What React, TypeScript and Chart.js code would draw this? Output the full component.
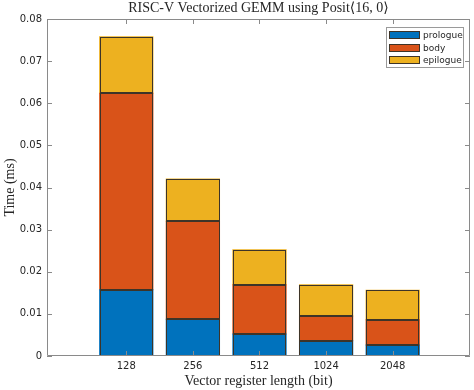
import React, { useEffect, useRef } from "react";
import { Chart, registerables } from "chart.js";

Chart.register(...registerables);

const categories = ["128", "256", "512", "1024", "2048"];
const xPositions = [1, 2, 3, 4, 5];
const prologue = [0.0157, 0.0087, 0.0052, 0.0036, 0.0026];
const body = [0.0467, 0.0233, 0.0117, 0.0059, 0.006];
const epilogue = [0.0134, 0.01, 0.0083, 0.0074, 0.007];
const seriesNames = ["prologue", "body", "epilogue"];
const seriesColors = ["#0072BD", "#D95319", "#EDB120"];
const yTicks = [0, 0.01, 0.02, 0.03, 0.04, 0.05, 0.06, 0.07, 0.08];

const TICK_FONT = "'DejaVu Sans', sans-serif";
const SERIF = "'Liberation Serif', 'DejaVu Serif', serif";
const FRAME = "#8a8a8a";
const EDGE = "#3d3428";

const framePlugin = {
  id: "matlabFrame",
  afterDatasetsDraw(chart: any) {
    const { ctx, chartArea: a, scales } = chart;
    ctx.save();
    // bar edges
    ctx.strokeStyle = EDGE;
    ctx.lineWidth = 1;
    chart.data.datasets.forEach((_: any, i: number) => {
      const meta = chart.getDatasetMeta(i);
      meta.data.forEach((bar: any) => {
        const p = bar.getProps(["x", "y", "base", "width"], true);
        const l = Math.round(p.x - p.width / 2) + 0.5;
        const r = Math.round(p.x + p.width / 2) - 0.5;
        const t = Math.round(p.y) + 0.5;
        const b = Math.round(p.base) - 0.5;
        ctx.strokeRect(l, t, r - l, b - t);
      });
    });

    ctx.strokeStyle = FRAME;
    ctx.lineWidth = 1;
    ctx.beginPath();
    ctx.rect(a.left + 0.5, a.top + 0.5, a.right - a.left - 1, a.bottom - a.top - 1);
    ctx.stroke();
    const tl = 5;
    ctx.beginPath();
    xPositions.forEach((v) => {
      const px = Math.round(scales.x.getPixelForValue(v)) + 0.5;
      ctx.moveTo(px, a.bottom);
      ctx.lineTo(px, a.bottom - tl);
      ctx.moveTo(px, a.top);
      ctx.lineTo(px, a.top + tl);
    });
    yTicks.forEach((v) => {
      const py = Math.round(scales.y.getPixelForValue(v)) + 0.5;
      ctx.moveTo(a.left, py);
      ctx.lineTo(a.left + tl, py);
      ctx.moveTo(a.right, py);
      ctx.lineTo(a.right - tl, py);
    });
    ctx.stroke();

    // legend box
    const bw = 78;
    const bh = 41;
    const bx = a.right - 6 - bw;
    const by = a.top + 8;
    ctx.fillStyle = "#ffffff";
    ctx.fillRect(bx, by, bw, bh);
    ctx.strokeStyle = "#9a9a9a";
    ctx.strokeRect(bx + 0.5, by + 0.5, bw - 1, bh - 1);
    ctx.font = `9px ${TICK_FONT}`;
    ctx.textBaseline = "middle";
    ctx.textAlign = "left";
    chart.data.datasets.forEach((ds: any, i: number) => {
      const cy = Math.round(by + 7.7 + i * 12.8);
      ctx.fillStyle = ds.backgroundColor;
      ctx.fillRect(bx + 3, cy - 3.5, 30, 7);
      ctx.strokeStyle = EDGE;
      ctx.lineWidth = 1;
      ctx.strokeRect(bx + 3.5, cy - 3.5, 30, 7);
      ctx.fillStyle = "#262626";
      ctx.fillText(ds.label, bx + 37, cy + 0.5);
    });
    ctx.restore();
  },
};

export default function App() {
  const ref = useRef<HTMLCanvasElement | null>(null);
  useEffect(() => {
    if (!ref.current) return;
    const series = [prologue, body, epilogue];
    const chart = new Chart(ref.current, {
      type: "bar",
      data: {
        datasets: series.map((vals, s) => ({
          label: seriesNames[s],
          data: vals.map((y, i) => ({ x: xPositions[i], y })),
          backgroundColor: seriesColors[s],
          borderWidth: 0,
          inflateAmount: 0.5,
          categoryPercentage: 1,
          barPercentage: 0.8,
        })),
      },
      options: {
        animation: false,
        responsive: false,
        maintainAspectRatio: false,
        layout: { padding: { left: 0, right: 4, top: 0, bottom: 0 } },
        plugins: {
          legend: { display: false },
          tooltip: { enabled: false },
          title: {
            display: true,
            fullSize: false,
            text: "RISC-V Vectorized GEMM using Posit⟨16, 0⟩",
            color: "#262626",
            font: { family: SERIF, size: 14, weight: "normal" },
            padding: { top: 0, bottom: 2.2 },
          },
        },
        scales: {
          x: {
            type: "linear",
            stacked: true,
            offset: false,
            min: -0.19,
            max: 6.16,
            grid: { display: false, drawTicks: false, offset: false },
            border: { display: false },
            afterBuildTicks: (scale: any) => {
              scale.ticks = xPositions.map((v) => ({ value: v }));
            },
            afterFit: (scale: any) => {
              scale.height = 34;
            },
            ticks: {
              autoSkip: false,
              maxRotation: 0,
              padding: 4,
              color: "#262626",
              font: { family: TICK_FONT, size: 10 },
              callback: (v: any) => categories[xPositions.indexOf(Number(v))] ?? "",
            },
            title: {
              display: true,
              text: "Vector register length (bit)",
              color: "#262626",
              font: { family: SERIF, size: 14 },
              padding: { top: 0, bottom: 0.4 },
            },
          },
          y: {
            stacked: true,
            min: 0,
            max: 0.08,
            grid: { display: false, drawTicks: false },
            border: { display: false },
            afterBuildTicks: (scale: any) => {
              scale.ticks = yTicks.map((v) => ({ value: v }));
            },
            afterFit: (scale: any) => {
              scale.width = 47;
            },
            ticks: {
              padding: 5,
              color: "#262626",
              font: { family: TICK_FONT, size: 10 },
              callback: (v: any) => String(Number(Number(v).toFixed(2))),
            },
            title: {
              display: true,
              text: "Time (ms)",
              color: "#262626",
              font: { family: SERIF, size: 14 },
              padding: { top: 2, bottom: 0 },
            },
          },
        },
      },
      plugins: [framePlugin],
    } as any);
    return () => chart.destroy();
  }, []);
  return (
    <div style={{ position: "absolute", left: 0, top: 0, width: 474, height: 390, background: "#fff" }}>
      <canvas ref={ref} width={474} height={390} style={{ display: "block" }} />
    </div>
  );
}
